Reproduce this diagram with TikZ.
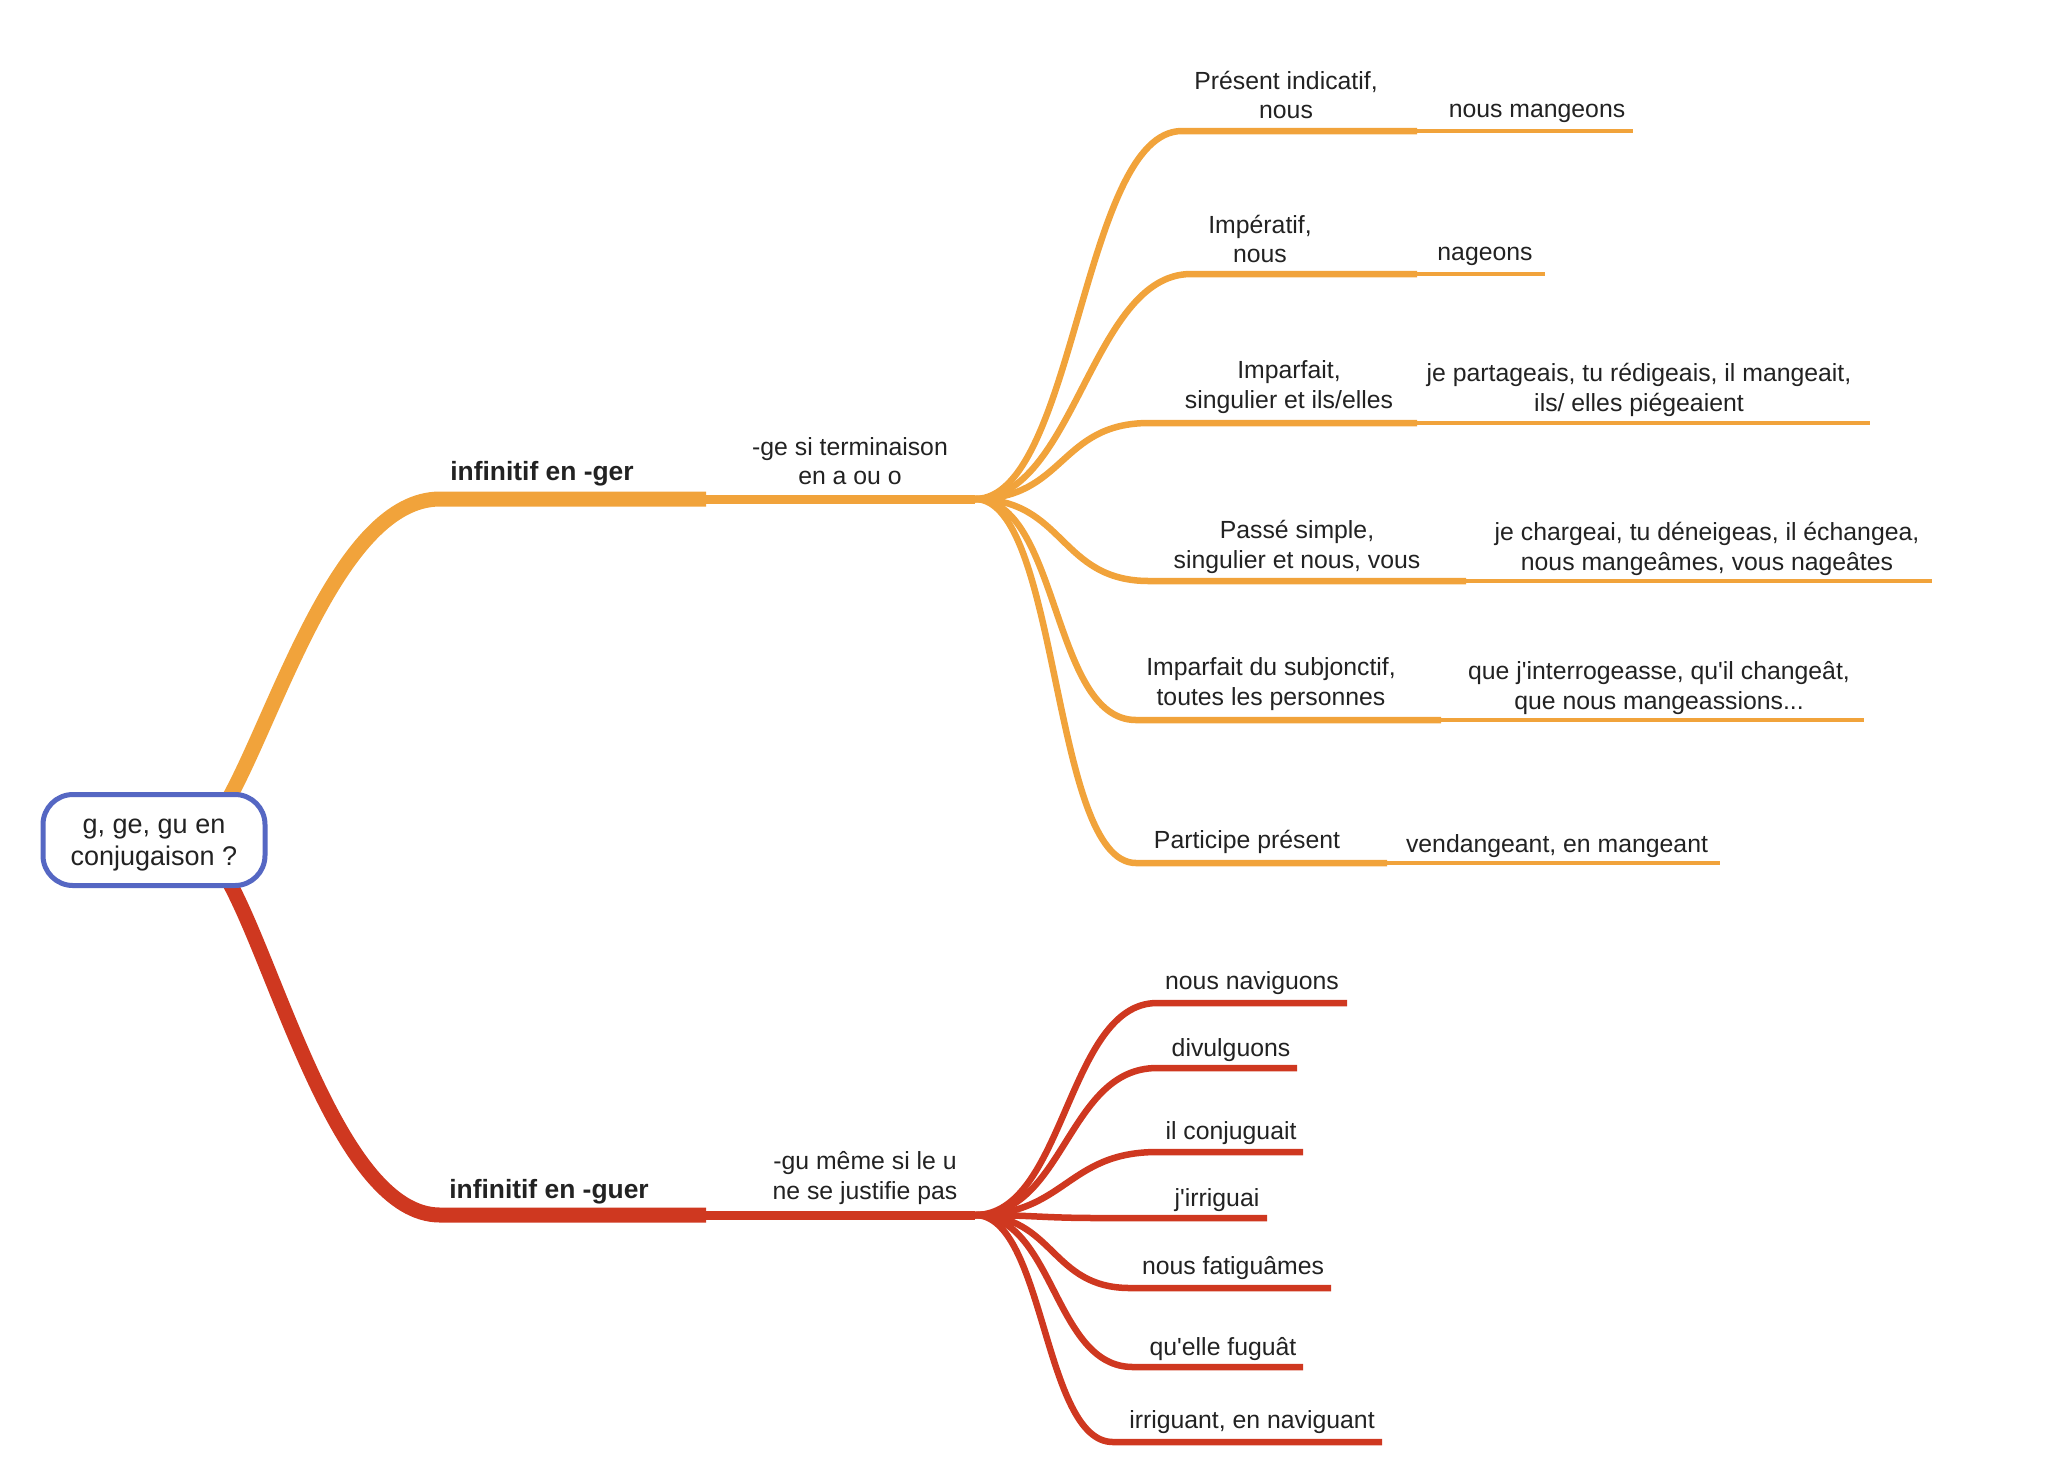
\documentclass[tikz,border=0pt]{standalone}
\usepackage{fontspec}
\setmainfont{Liberation Sans}[Ligatures=TeXOff]
\usetikzlibrary{backgrounds}
\definecolor{orangeger}{HTML}{F1A33B}
\definecolor{rougeguer}{HTML}{CF3820}
\definecolor{bleuracine}{HTML}{5567C3}
\definecolor{texte}{HTML}{222222}
\begin{document}
\begin{tikzpicture}[x=0.5pt,y=-0.5pt,
    every node/.style={text=texte,font=\fontsize{12.4pt}{14.6pt}\selectfont,align=center,inner sep=0pt},
    racine/.style={draw=bleuracine,line width=2.5pt,fill=white,rounded corners=15pt,minimum width=111pt,minimum height=45.5pt},
    titre/.style={font=\fontsize{13.2pt}{15pt}\selectfont\bfseries},
    tronc/.style={line width=7.5pt},
    branche/.style={line width=4.5pt},
    feuille/.style={line width=3.25pt},
    exemple/.style={line width=1.75pt}]
    \useasboundingbox (0,0) rectangle (2048,1469);
    \node[racine] (racine) at (154,840) {};
    \node[font=\fontsize{13.5pt}{16pt}\selectfont] (tracine) at (154,845) {g, ge, gu en\\conjugaison ?};
    \coordinate (gdep) at ([xshift=37pt,yshift=20pt]racine.center);
    \coordinate (gudep) at ([xshift=37pt,yshift=-20pt]racine.center);
    \coordinate (ger) at (440,499);
    \coordinate (germil) at (706,499);
    \coordinate (gerfan) at (975,499);
    \coordinate (guer) at (440,1215);
    \coordinate (guermil) at (706,1215);
    \coordinate (guerfan) at (975,1215);
    \node[titre] (tger) at (542,474) {infinitif en -ger};
    \node (tge) at (850,461) {-ge si terminaison\\en a ou o};
    \node[titre] (tguer) at (549,1192) {infinitif en -guer};
    \node (tgu) at (865,1178) {-gu même si le u\\ne se justifie pas};
    \coordinate (pres-a) at (1182,131);
    \coordinate (pres-b) at (1417,131);
    \coordinate (pres-c) at (1633,131);
    \node (tpres) at (1286,95) {Présent indicatif,\\nous};
    \node (xpres) at (1537,113) {nous mangeons};
    \coordinate (imp-a) at (1191,274);
    \coordinate (imp-b) at (1417,274);
    \coordinate (imp-c) at (1545,274);
    \node (timp) at (1260,239) {Impératif,\\nous};
    \node (ximp) at (1485,256) {nageons};
    \coordinate (impf-a) at (1149,423);
    \coordinate (impf-b) at (1417,423);
    \coordinate (impf-c) at (1870,423);
    \node (timpf) at (1289,387) {Imparfait,\\singulier et ils/elles};
    \node (ximpf) at (1639,390) {je partageais, tu rédigeais, il mangeait,\\ils/ elles piégeaient};
    \coordinate (ps-a) at (1149,581);
    \coordinate (ps-b) at (1466,581);
    \coordinate (ps-c) at (1932,581);
    \node (tps) at (1297,547) {Passé simple,\\singulier et nous, vous};
    \node (xps) at (1707,549) {je chargeai, tu déneigeas, il échangea,\\nous mangeâmes, vous nageâtes};
    \coordinate (subj-a) at (1136,720);
    \coordinate (subj-b) at (1441,720);
    \coordinate (subj-c) at (1864,720);
    \node (tsubj) at (1271,684) {Imparfait du subjonctif,\\toutes les personnes};
    \node (xsubj) at (1659,688) {que j'interrogeasse, qu'il changeât,\\que nous mangeassions...};
    \coordinate (part-a) at (1136,863);
    \coordinate (part-b) at (1387,863);
    \coordinate (part-c) at (1720,863);
    \node (tpart) at (1247,842) {Participe présent};
    \node (xpart) at (1557,846) {vendangeant, en mangeant};
    \coordinate (nav-a) at (1157,1003);
    \coordinate (nav-b) at (1347,1003);
    \node (tnav) at (1252,983) {nous naviguons};
    \coordinate (div-a) at (1157,1068);
    \coordinate (div-b) at (1297,1068);
    \node (tdiv) at (1231,1050) {divulguons};
    \coordinate (conj-a) at (1157,1152);
    \coordinate (conj-b) at (1303,1152);
    \node (tconj) at (1231,1133) {il conjuguait};
    \coordinate (irr-a) at (1100,1218);
    \coordinate (irr-b) at (1267,1218);
    \node (tirr) at (1217,1200) {j'irriguai};
    \coordinate (fat-a) at (1130,1288);
    \coordinate (fat-b) at (1331,1288);
    \node (tfat) at (1233,1268) {nous fatiguâmes};
    \coordinate (fug-a) at (1133,1367);
    \coordinate (fug-b) at (1303,1367);
    \node (tfug) at (1223,1349) {qu'elle fuguât};
    \coordinate (irg-a) at (1113,1442);
    \coordinate (irg-b) at (1382,1442);
    \node (tirg) at (1252,1422) {irriguant, en naviguant};
    \begin{scope}[on background layer]
      \draw[orangeger,tronc] (gdep) .. controls +(50,-90) and +(-100,0) .. (ger) -- (germil);
      \draw[orangeger,branche] (germil) -- (gerfan);
      \draw[orangeger,feuille] (gerfan) .. controls +(100,0) and +(-100,0) .. (pres-a) -- (pres-b);
      \draw[orangeger,exemple] (pres-b) -- (pres-c);
      \draw[orangeger,feuille] (gerfan) .. controls +(100,0) and +(-100,0) .. (imp-a) -- (imp-b);
      \draw[orangeger,exemple] (imp-b) -- (imp-c);
      \draw[orangeger,feuille] (gerfan) .. controls +(90,0) and +(-90,0) .. (impf-a) -- (impf-b);
      \draw[orangeger,exemple] (impf-b) -- (impf-c);
      \draw[orangeger,feuille] (gerfan) .. controls +(90,0) and +(-90,0) .. (ps-a) -- (ps-b);
      \draw[orangeger,exemple] (ps-b) -- (ps-c);
      \draw[orangeger,feuille] (gerfan) .. controls +(85,0) and +(-85,0) .. (subj-a) -- (subj-b);
      \draw[orangeger,exemple] (subj-b) -- (subj-c);
      \draw[orangeger,feuille] (gerfan) .. controls +(85,0) and +(-85,0) .. (part-a) -- (part-b);
      \draw[orangeger,exemple] (part-b) -- (part-c);
      \draw[rougeguer,tronc] (gudep) .. controls +(50,90) and +(-100,0) .. (guer) -- (guermil);
      \draw[rougeguer,branche] (guermil) -- (guerfan);
      \draw[rougeguer,feuille] (guerfan) .. controls +(90,0) and +(-90,0) .. (nav-a) -- (nav-b);
      \draw[rougeguer,feuille] (guerfan) .. controls +(90,0) and +(-90,0) .. (div-a) -- (div-b);
      \draw[rougeguer,feuille] (guerfan) .. controls +(90,0) and +(-90,0) .. (conj-a) -- (conj-b);
      \draw[rougeguer,feuille] (guerfan) .. controls +(60,0) and +(-60,0) .. (irr-a) -- (irr-b);
      \draw[rougeguer,feuille] (guerfan) .. controls +(80,0) and +(-80,0) .. (fat-a) -- (fat-b);
      \draw[rougeguer,feuille] (guerfan) .. controls +(80,0) and +(-80,0) .. (fug-a) -- (fug-b);
      \draw[rougeguer,feuille] (guerfan) .. controls +(70,0) and +(-70,0) .. (irg-a) -- (irg-b);
    \end{scope}
\end{tikzpicture}
\end{document}
